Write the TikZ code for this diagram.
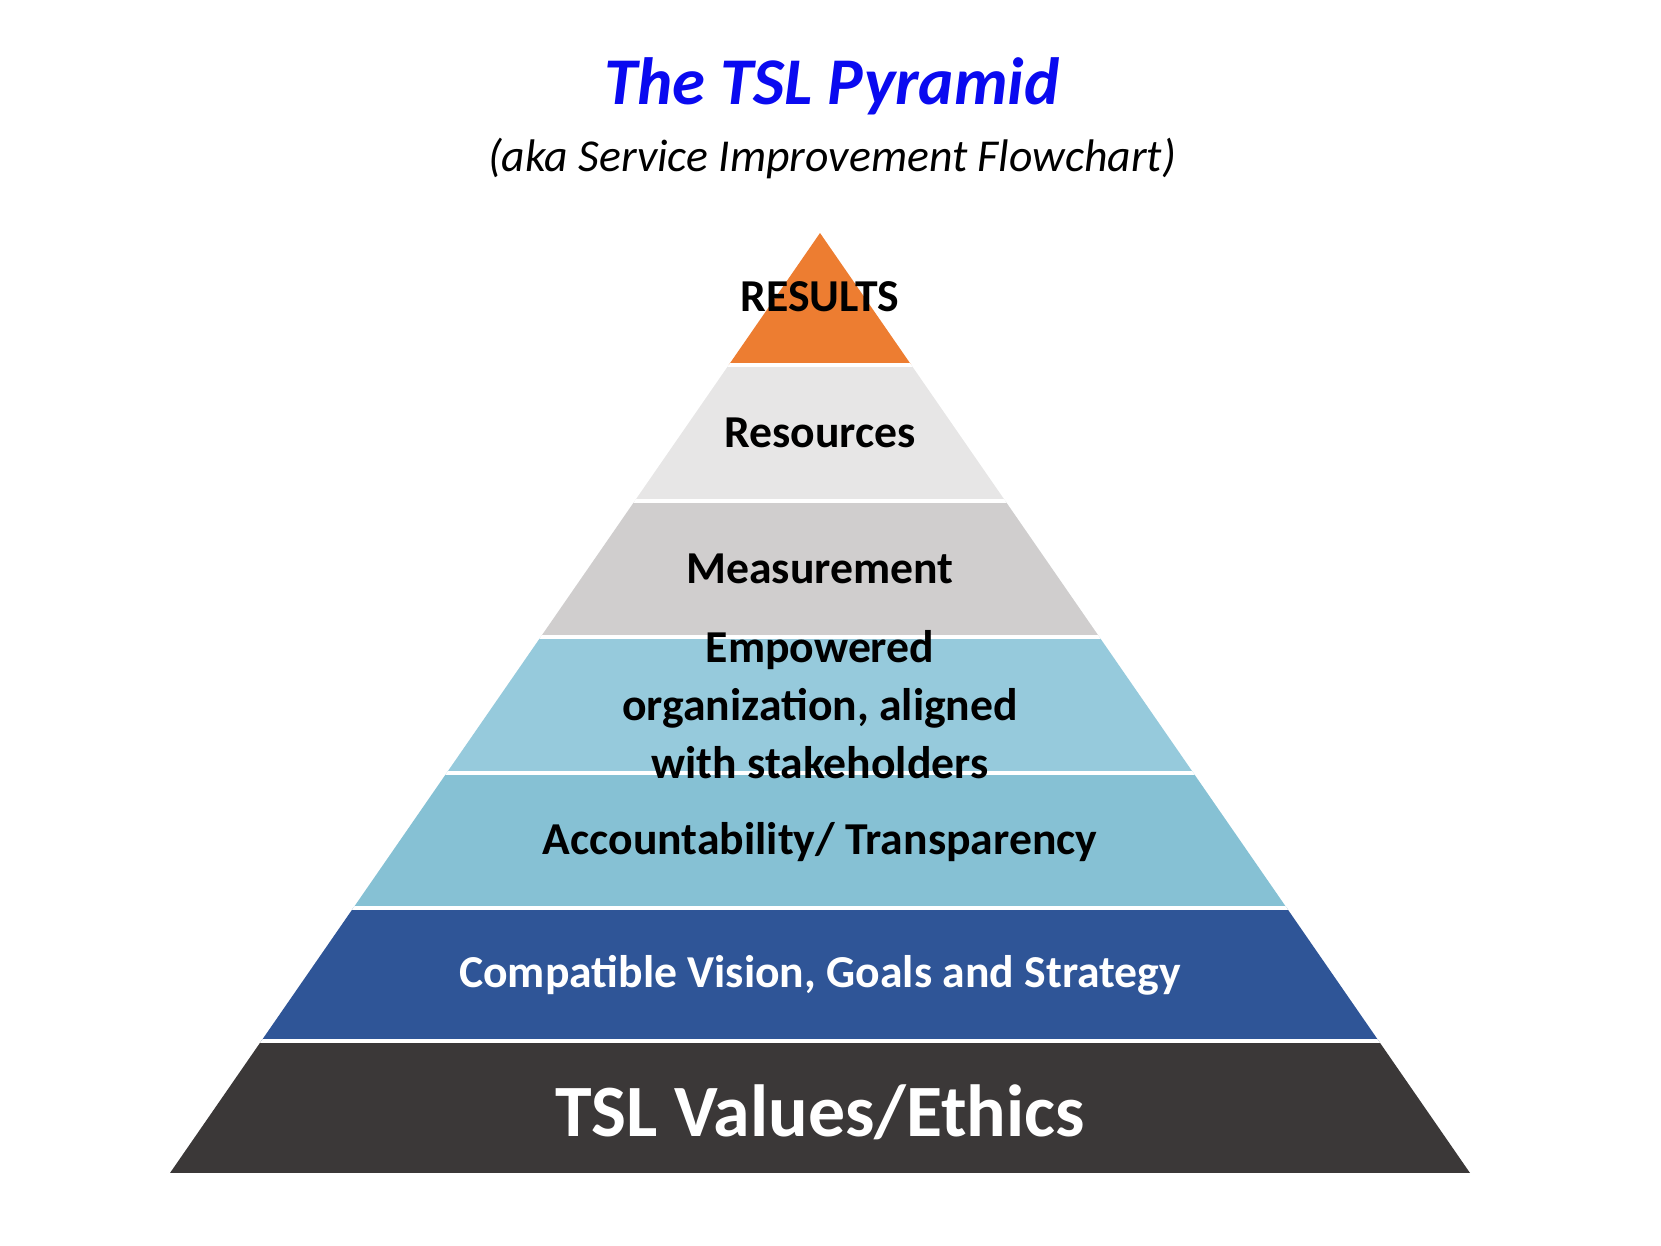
\documentclass[tikz,border=0pt]{standalone}
\usepackage{fontspec}
\setmainfont{Carlito}
\definecolor{cresults}{HTML}{ED7D31}
\definecolor{cresources}{HTML}{E7E6E6}
\definecolor{cmeasure}{HTML}{D0CECE}
\definecolor{cempower}{HTML}{96CADC}
\definecolor{caccount}{HTML}{86C1D4}
\definecolor{cvision}{HTML}{2F5597}
\definecolor{cvalues}{HTML}{3B3838}
\definecolor{ctitle}{HTML}{0A0AF0}
\begin{document}
\begin{tikzpicture}
  \tikzstyle{label}=[font=\fontsize{13}{14}\selectfont\bfseries,align=center]
  \useasboundingbox (0,0) rectangle (16.61,-12.45);
  \node[font=\fontsize{19}{22}\selectfont\bfseries\itshape,text=ctitle] (title) at (8.32,-0.86) {The TSL Pyramid};
  \node[font=\fontsize{13}{15}\selectfont\itshape] (subtitle) at (8.32,-1.58) {(aka Service Improvement Flowchart)};

  \coordinate (apex) at (8.20,-2.33);
  \coordinate (bl) at (1.70,-11.73);
  \coordinate (br) at (14.70,-11.73);

  \begin{scope}
    \clip (apex) -- (bl) -- (br) -- cycle;
    \foreach \top/\bot/\col in {2.33/3.65/cresults, 3.65/5.01/cresources,
      5.01/6.37/cmeasure, 6.37/7.73/cempower, 7.73/9.08/caccount,
      9.08/10.41/cvision, 10.41/11.73/cvalues}
      \fill[\col] (0,-\top) rectangle (16.61,-\bot);
    \foreach \y in {3.65,5.01,6.37,7.73,9.08,10.41}
      \draw[white,line width=0.9pt] (0,-\y) -- (16.61,-\y);
  \end{scope}

  \node[label] (results) at (8.20,-2.97) {RESULTS};
  \node[label] (resources) at (8.20,-4.33) {Resources};
  \node[label] (measurement) at (8.20,-5.69) {Measurement};
  \node[label,font=\fontsize{13}{16.5}\selectfont\bfseries] (empowered) at (8.20,-7.05)
    {Empowered\\organization, aligned\\with stakeholders};
  \node[label] (accountability) at (8.20,-8.42) {Accountability/ Transparency};
  \node[label,text=white] (vision) at (8.20,-9.75) {Compatible Vision, Goals and Strategy};
  \node[label,text=white,font=\fontsize{21}{24}\selectfont\bfseries] (values) at (8.20,-11.12) {TSL Values/Ethics};
\end{tikzpicture}
\end{document}
